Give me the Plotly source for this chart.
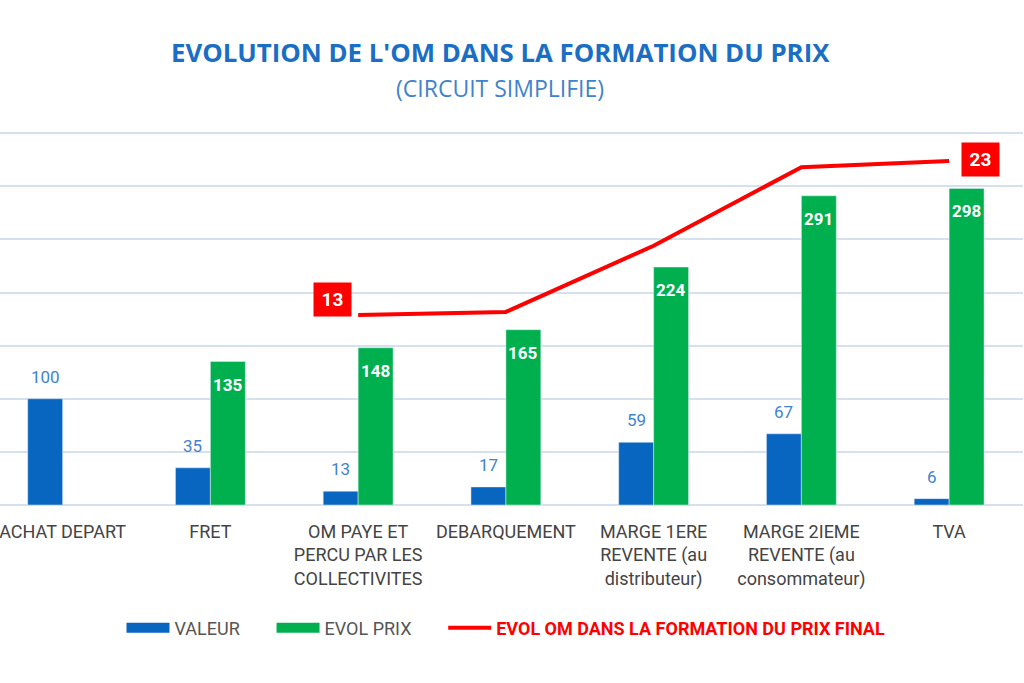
import plotly.graph_objects as go

categories = ["ACHAT DEPART", "FRET", "OM PAYE ET<br>PERCU PAR LES<br>COLLECTIVITES",
              "DEBARQUEMENT", "MARGE 1ERE<br>REVENTE (au<br>distributeur)",
              "MARGE 2IEME<br>REVENTE (au<br>consommateur)", "TVA"]
valeur = [100, 35, 13, 17, 59, 67, 6]
evol_prix = [None, 135, 148, 165, 224, 291, 298]
om_cats = categories[2:]
evol_om = [13, 13.2, 17.5, 22.6, 23]
om_labels = {0: "13", 4: "23"}

BLUE = "#0866c0"
GREEN = "#00b04f"
RED = "#ff0000"
GRID = "#d6e1ee"
FONT = "Roboto"
TFONT = "Open Sans"
PAD = "&nbsp;" * 6

fig = go.Figure()
fig.add_trace(go.Bar(x=categories, y=valeur, name="VALEUR", marker_color=BLUE,
                     showlegend=False, hoverinfo="skip"))
fig.add_trace(go.Bar(x=categories, y=evol_prix, name="EVOL PRIX", marker_color=GREEN,
                     showlegend=False, hoverinfo="skip"))
fig.add_trace(go.Scatter(x=om_cats, y=evol_om, yaxis="y2", mode="lines",
                         line=dict(color=RED, width=4), showlegend=False, hoverinfo="skip"))

# legend entries
fig.add_trace(go.Scatter(x=[None], y=[None], mode="lines", name="VALEUR" + PAD,
                         line=dict(color=BLUE, width=10)))
fig.add_trace(go.Scatter(x=[None], y=[None], mode="lines", name="EVOL PRIX" + PAD,
                         line=dict(color=GREEN, width=10)))
fig.add_trace(go.Scatter(x=[None], y=[None], mode="lines", yaxis="y2",
                         name="<span style='color:#ff0000'><b>EVOL OM DANS LA FORMATION DU PRIX FINAL</b></span>",
                         line=dict(color=RED, width=4)))

annotations = []
for c, v in zip(categories, valeur):
    annotations.append(dict(x=c, y=v, xref="x", yref="y", text=str(v), showarrow=False,
                            xshift=-17.5, yshift=22, yanchor="middle",
                            font=dict(family=FONT, size=17, color="#3f83cc")))
for c, v in zip(categories, evol_prix):
    if v is None:
        continue
    annotations.append(dict(x=c, y=v, xref="x", yref="y", text="<b>%d</b>" % v, showarrow=False,
                            xshift=17.5, yshift=-23, yanchor="middle",
                            font=dict(family=FONT, size=17, color="white")))
for i, t in om_labels.items():
    common = dict(x=om_cats[i], y=evol_om[i], xref="x", yref="y2",
                  text="<b>%s</b>" % t, showarrow=False, bgcolor=RED, borderpad=6,
                  width=25, height=21, font=dict(family=FONT, size=19, color="white"))
    if i == 0:
        annotations.append(dict(common, xanchor="right", xshift=-6, yshift=16))
    else:
        annotations.append(dict(common, xanchor="left", xshift=12, yshift=2))

annotations.append(dict(x=500 / 1023, y=(505 - 52.5) / 374, xref="paper", yref="paper",
                        text="<b>EVOLUTION DE L'OM DANS LA FORMATION DU PRIX</b>",
                        showarrow=False, xanchor="center", yanchor="middle",
                        font=dict(family=TFONT, size=25.8, color="#1a6ec4")))
annotations.append(dict(x=500 / 1023, y=(505 - 88) / 374, xref="paper", yref="paper",
                        text="(CIRCUIT SIMPLIFIE)",
                        showarrow=False, xanchor="center", yanchor="middle",
                        font=dict(family=TFONT, size=23, color="#3f83cc")))

fig.update_layout(
    width=1024, height=683,
    margin=dict(l=0, r=1, t=131, b=178),
    paper_bgcolor="white", plot_bgcolor="white",
    barmode="group", bargap=0.527, bargroupgap=0,
    font=dict(family=FONT, size=18, color="#444444"),
    xaxis=dict(type="category", range=[-0.424, 6.5], showgrid=False, showline=False,
               ticks="", tickfont=dict(family=FONT, size=18, color="#444444"),
               ticklabelstandoff=14, zeroline=False),
    yaxis=dict(range=[0, 352], tick0=0, dtick=50, showticklabels=False, gridcolor=GRID,
               gridwidth=2, zeroline=True, zerolinecolor=GRID, zerolinewidth=2,
               showline=False, ticks=""),
    yaxis2=dict(range=[0.66, 24.95], overlaying="y", side="right", showgrid=False,
                showticklabels=False, zeroline=False, showline=False, ticks=""),
    legend=dict(orientation="h", x=506 / 1023, xanchor="center", y=(505 - 628) / 374,
                yanchor="middle", itemwidth=43, font=dict(family=FONT, size=18, color="#555555"),
                traceorder="normal"),
    annotations=annotations,
    showlegend=True,
)

fig.write_html("out.html")
